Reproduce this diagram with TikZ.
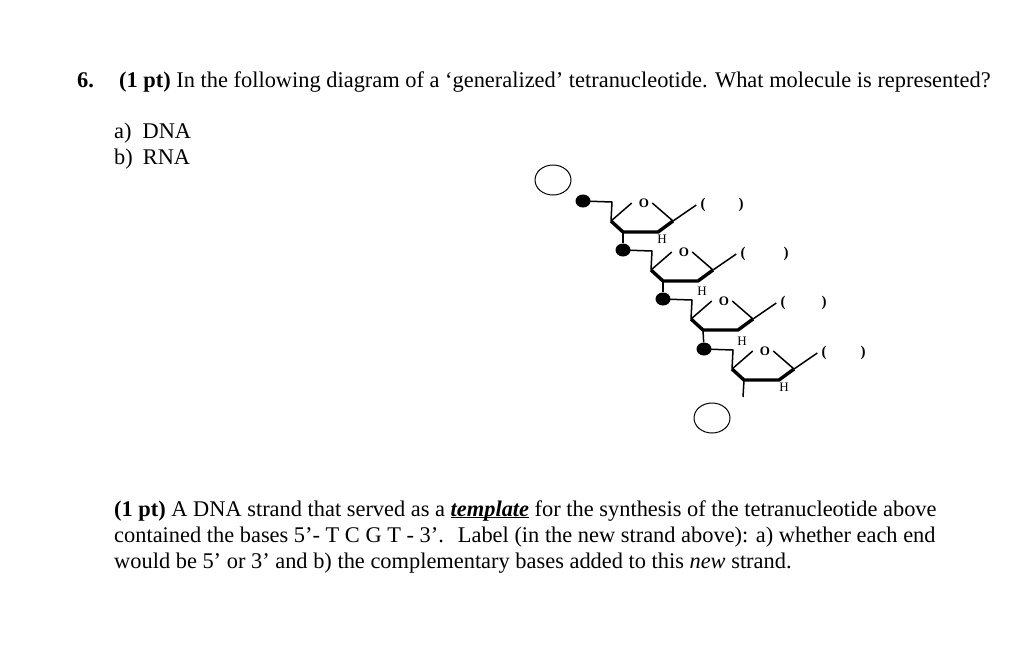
\documentclass[tikz,border=0pt]{standalone}
\usepackage{fontspec}
\setmainfont{Liberation Serif}
\usetikzlibrary{positioning}
\usetikzlibrary{shapes.geometric}
\begin{document}
\begin{tikzpicture}[x=1pt,y=-1pt,line join=round,
		phosphate/.style={ellipse,fill,inner sep=0pt,minimum width=15pt,minimum height=13pt},
		blank/.style={ellipse,draw,line width=1pt,inner sep=0pt,minimum width=36pt,minimum height=30pt},
		thinbond/.style={line width=1.5pt},
		thickbond/.style={line width=3.4pt},
		txt/.style={anchor=base west,inner sep=0pt,font=\fontsize{22.4}{25}\selectfont},
		smalltxt/.style={inner sep=0pt,font=\fontsize{13}{13}\selectfont},
		ringo/.style={inner sep=0pt,font=\fontsize{13}{13}\bfseries\selectfont},
		paren/.style={inner sep=0pt,font=\fontsize{15}{15}\bfseries\selectfont}]
	\useasboundingbox (0,0) rectangle (1024,649);
	
	\node[txt] (qnum) at (77,87) {\textbf{6.}};
	\node[txt] (qone) at (119,87) {\textbf{(1 pt)} In the following diagram of a ‘generalized’ tetranucleotide. What molecule is represented?};
	\node[txt] (dna) at (114,138) {a)\hspace{11pt}DNA};
	\node[txt] (rna) at (114,164) {b)\hspace{10pt}RNA};
	\node[txt] (qtwoa) at (114,516) {\textbf{(1 pt)} A DNA strand that served as a \underline{\smash{\textbf{\textit{template}}}} for the synthesis of the tetranucleotide above};
	\node[txt] (qtwob) at (114,542) {contained the bases 5’- T C G T - 3’.\hspace{14pt}Label (in the new strand above): a) whether each end};
	\node[txt] (qtwoc) at (114,568) {would be 5’ or 3’ and b) the complementary bases added to this \textit{new} strand.};
	
	\node[blank] (endtop) at (553,180) {};
	\node[blank] (endbottom) at (712,418) {};
	
	% one sugar per row
	\foreach \i/\px/\py/\hx/\hy/\cx in {1/583/201/662/239/741, 2/623/250/702/291/786, 3/663/299/742/341/824, 4/704/349/784/387/863}{
		\node[phosphate] (p\i) at (\px,\py) {};
		\node[ringo] (o\i) at (\px+61,\py+2) {O};
		\node[smalltxt] (h\i) at (\hx,\hy) {H};
		\node[paren] (open\i) at (\px+120,\py+4) {(};
		\node[paren] (close\i) at (\cx,\py+4) {)};
		\coordinate (a\i) at (\px+29,\py+1);
		\coordinate (b\i) at (\px+28,\py+20);
		\coordinate (c\i) at (\px+40,\py+31);
		\coordinate (d\i) at (\px+75,\py+31);
		\coordinate (e\i) at (\px+90,\py+20);
		\draw[thinbond] (p\i.center) -- (a\i) -- (b\i) -- ([xshift=-7pt]o\i.west);
		\draw[thinbond] ([xshift=3pt]o\i.east) -- (e\i) -- ([xshift=-4pt]open\i.west);
		\draw[thickbond] (b\i) -- (c\i) -- (d\i) -- (e\i);
	}
	\draw[thinbond] (c1) -- (p2);
	\draw[thinbond] (c2) -- (p3);
	\draw[thinbond] (c3) -- (p4);
	\coordinate (tail) at (743,397);
	\draw[thinbond] (c4) -- (tail);
\end{tikzpicture}
\end{document}
